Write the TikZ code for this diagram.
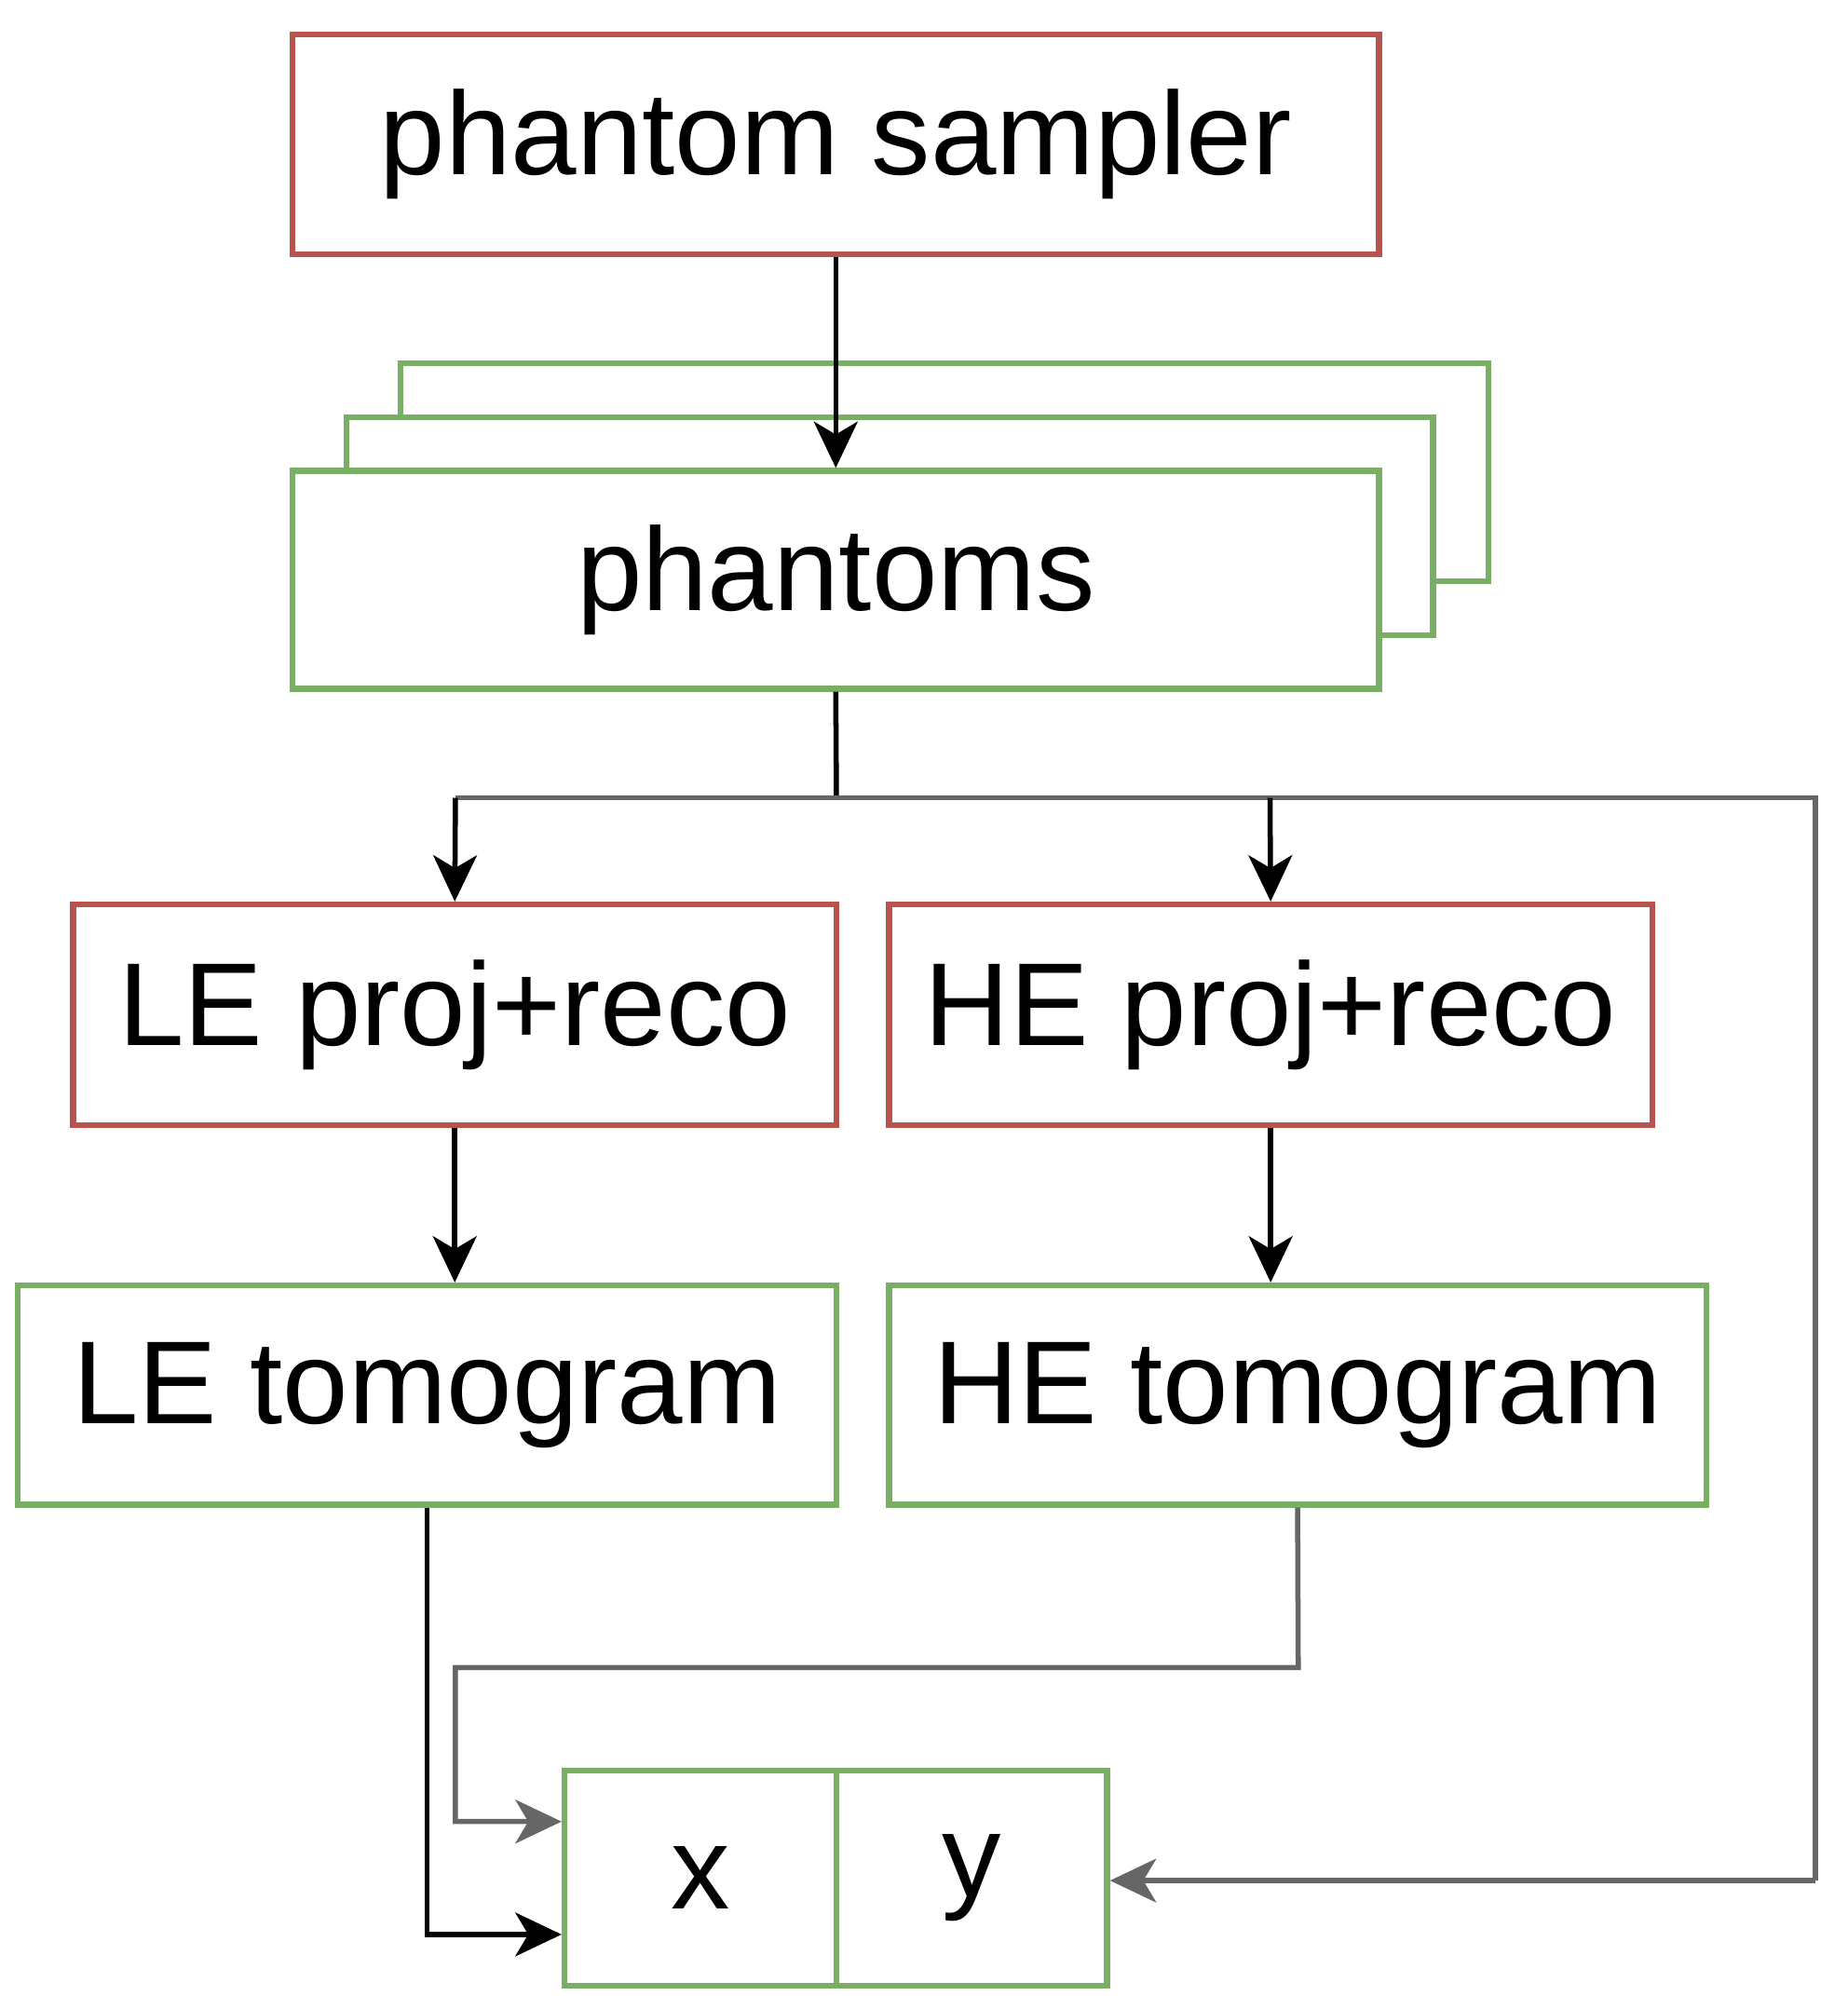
\documentclass[tikz,border=0pt]{standalone}
\usepackage{fontspec}
\setmainfont{Liberation Sans}
\usetikzlibrary{arrows.meta}
\definecolor{rd}{RGB}{184,84,80}
\definecolor{gr}{RGB}{120,175,100}
\definecolor{gy}{RGB}{102,102,102}
\begin{document}
\begin{tikzpicture}[x=1pt,y=-1pt,
  bx/.style={draw=#1,line width=4.5pt,fill=white,inner sep=0pt,font=\fontsize{92}{100}\selectfont},
  ar/.style={line width=4pt,-{Stealth[length=36pt,width=34pt,inset=10pt]}},
  ln/.style={line width=4pt}]
\useasboundingbox (0,0) rectangle (1440,1556);
\node[bx=rd,minimum width=847pt,minimum height=171pt] (ps) at (651.5,112.5) {phantom sampler};
\draw[bx=gr] (312,283) rectangle (1160,453);
\draw[bx=gr] (270,325) rectangle (1117,495);
\node[bx=gr,minimum width=847pt,minimum height=170pt] (ph) at (651.5,452) {phantoms};
\node[bx=rd,minimum width=595pt,minimum height=172pt] (lp) at (354.5,791) {LE proj+reco};
\node[bx=rd,minimum width=595pt,minimum height=172pt] (hp) at (990.5,791) {HE proj+reco};
\node[bx=gr,minimum width=638pt,minimum height=171pt] (lt) at (333,1087.5) {LE tomogram};
\node[bx=gr,minimum width=637pt,minimum height=171pt] (ht) at (1011.5,1087.5) {HE tomogram};
\node[bx=gr,minimum width=212pt,minimum height=168pt] (x) at (546,1464) {x};
\node[bx=gr,minimum width=211pt,minimum height=168pt] (y) at (757.5,1464) {y};
\draw[ar] (ps.south) -- (ph.north);
\coordinate (j) at (652,622);
\draw[ln] (ph.south) -- (j);
\draw[ln,gy] (j) -- (355,622);
\draw[ln,gy] (j) -- (1415,622) -- (1415,1466);
\draw[ar,gy] (1415,1466) -- (y.east|-0,1466);
\draw[ar] (355,622) -- (lp.north);
\draw[ar] (990,622) -- (hp.north);
\draw[ar] (lp.south) -- (lt.north-|lp.south);
\draw[ar] (hp.south) -- (ht.north-|hp.south);
\draw[ar] (lt.south) -- (333,1508) -- (x.west|-0,1508);
\draw[ar,gy] (ht.south) -- (1012,1300) -- (355,1300) -- (355,1420) -- (x.west|-0,1420);
\end{tikzpicture}
\end{document}
